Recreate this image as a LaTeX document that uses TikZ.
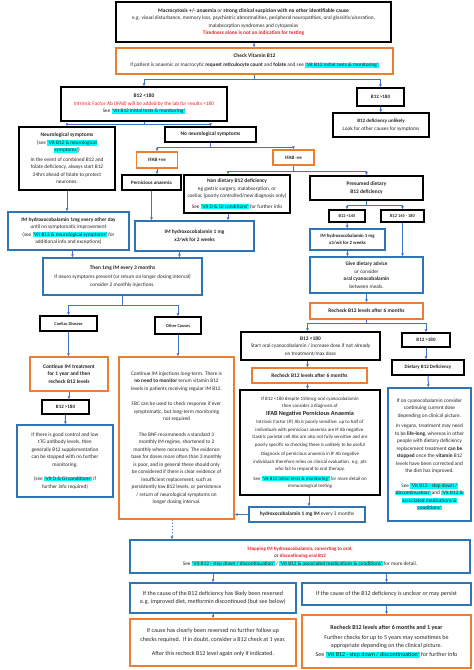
\documentclass[tikz,border=0pt]{standalone}
\usepackage{fontspec}
\setmainfont{Carlito}
\usepackage{xcolor}
\usetikzlibrary{arrows.meta}

\definecolor{boxorange}{RGB}{237,125,49}
\definecolor{boxblue}{RGB}{46,117,182}
\definecolor{linkblue}{RGB}{68,114,196}
\definecolor{warnred}{RGB}{232,32,44}
\definecolor{refcyan}{RGB}{0,255,255}
\newcommand{\refto}[1]{{\setlength{\fboxsep}{0.3pt}\colorbox{refcyan}{#1}}}
\newcommand{\hd}[1]{{\fontsize{5.4}{7.5}\selectfont\bfseries #1}}
\newcommand{\lbl}[1]{{\fontsize{5}{7.5}\selectfont\bfseries #1}}

\begin{document}
\begin{tikzpicture}[x=1pt, y=-1pt,
  every node/.style={font=\fontsize{5.3}{7.5}\selectfont, align=center, inner sep=0pt, text=black!85},
  blackbox/.style={draw=black, line width=1.3pt, fill=white},
  thickbox/.style={draw=black, line width=1.8pt, fill=white},
  orangebox/.style={draw=boxorange, line width=1.3pt, fill=white},
  bluebox/.style={draw=boxblue, line width=1.3pt, fill=white},
  bigtext/.style={font=\fontsize{6}{8.7}\selectfont},
  link/.style={draw=linkblue, line width=1pt, -{Latex[length=3pt,width=3pt]}}]
  \useasboundingbox (0,0) rectangle (474,670);

  % === TOP: presentation and first check ===
  \node[thickbox, minimum width=275, minimum height=40] (start) at (253.5,22)
    {\hd{Macrocytosis +/- anaemia} {\fontsize{5.4}{7.5}\selectfont or} \hd{strong clinical suspicion with no other identifiable cause}\\
     e.g. visual disturbance, memory loss, psychiatric abnormalities, peripheral neuropathies, oral glossitis/ulceration,\\
     malabsorption syndromes and cytopenias\\
     \textcolor{warnred}{\bfseries Tiredness alone is not an indication for testing}};
  \node[orangebox, minimum width=277, minimum height=26] (check) at (254.5,61)
    {\hd{Check Vitamin B12}\\[1.5pt]
     If patient is anaemic or macrocytic \textbf{request reticulocyte count} and \textbf{folate} and see \refto{`Vit B12 initial tests \& monitoring'}};
  \node[blackbox, minimum width=166, minimum height=34] (lowB) at (144,104)
    {\hd{B12 <180}\\
     \textcolor{warnred}{Intrinsic Factor Ab (IFAB) will be added by the lab for results <180}\\
     See \refto{`Vit B12 initial tests \& monitoring'}};
  \node[blackbox, minimum width=47, minimum height=18] (highB) at (380.5,97) {\lbl{B12 >180}};
  \node[blackbox, minimum width=96, minimum height=24] (unlikely) at (381,125)
    {\lbl{B12 deficiency unlikely}\\ Look for other causes for symptoms};

  % === MIDDLE: symptoms and IFAB ===
  \node[blackbox, minimum width=96, minimum height=63] (neuro) at (67,158.5)
    {\hd{Neurological symptoms}\\
     (see \refto{`Vit B12 \& neurological}\\ \refto{symptoms'}\textbf{)}\\[2pt]
     In the event of combined B12 and\\ folate deficiency, always start B12\\
     24hrs ahead of folate to protect\\ neurones.};
  \node[blackbox, minimum width=91, minimum height=15] (noneuro) at (210.5,134.5) {\hd{No neurological symptoms}};
  \node[orangebox, minimum width=41, minimum height=16] (ifabpos) at (157,160) {\lbl{IFAB +ve}};
  \node[orangebox, minimum width=41, minimum height=15] (ifabneg) at (293.5,157.5) {\lbl{IFAB -ve}};
  \node[blackbox, minimum width=59, minimum height=15] (pernicious) at (151.5,182.5) {\lbl{Pernicious anaemia}};
  \node[blackbox, minimum width=106, minimum height=38] (nondiet) at (237,194)
    {\hd{Non dietary B12 deficiency}\\
     eg gastric surgery, malabsorption, or\\
     coeliac (poorly controlled/new diagnosis only)\\[3pt]
     See \refto{`Vit D \& GI conditions'} for further info};
  \node[blackbox, minimum width=113, minimum height=24] (presumed) at (366.5,188)
    {\hd{Presumed dietary}\\ \hd{B12 deficiency}};
  \node[blackbox, minimum width=36, minimum height=12] (lowtier) at (347,216) {\fontsize{4.4}{6}\selectfont\bfseries B12 <145};
  \node[blackbox, minimum width=43, minimum height=12] (midtier) at (402.5,216) {\fontsize{4.4}{6}\selectfont\bfseries B12 145 - 180};

  % === treatment boxes ===
  \node[bluebox, minimum width=121, minimum height=38] (neuroim) at (68.5,231)
    {\textbf{IM hydroxocobalamin 1mg every other day}\\
     until no symptomatic improvement\\
     (see \refto{`Vit B12 \& neurological symptoms'} for\\
     additional info and exceptions)};
  \node[bluebox, minimum width=119, minimum height=30] (imleft) at (194.5,236)
    {\textbf{IM hydroxocobalamin 1 mg}\\ \textbf{x3/wk for 2 weeks}};
  \node[bluebox, minimum width=75, minimum height=21] (imright) at (347.5,239.5)
    {\fontsize{4.8}{7}\selectfont\bfseries IM hydroxocobalamin 1 mg\\ \fontsize{4.8}{7}\selectfont\bfseries x3/wk for 2 weeks};
  \node[bluebox, minimum width=113, minimum height=36] (dietadv) at (366.5,275)
    {\textbf{Give dietary advice}\\ or consider\\ \textbf{oral cyanocobalamin}\\ between meals.};
  \node[orangebox, minimum width=113, minimum height=16] (recheckA) at (366.5,311) {\hd{Recheck B12 levels after 6 months}};
  \node[bluebox, minimum width=159, minimum height=37] (then3m) at (122.5,276.5)
    {\hd{Then 1mg IM every 3 months}\\[2pt]
     If neuro symptoms present (or return on longer dosing interval)\\
     consider 2 monthly injections.};

  % === LOWER LEFT: coeliac and other causes ===
  \node[blackbox, minimum width=57, minimum height=15] (coeliac) at (68.5,323.5) {\fontsize{4.4}{6}\selectfont\bfseries Coeliac Disease};
  \node[blackbox, minimum width=46, minimum height=17] (other) at (178,325.5) {\fontsize{4.4}{6}\selectfont\bfseries Other Causes};
  \node[orangebox, minimum width=78, minimum height=34] (contim) at (69,374)
    {\hd{Continue IM treatment}\\ \hd{for 1 year and then}\\ \hd{recheck B12 levels}};
  \node[blackbox, minimum width=47, minimum height=14] (coelhigh) at (65.5,407) {\lbl{B12 >180}};
  \node[bluebox, minimum width=96, minimum height=72] (coelstop) at (65,461)
    {If there is good control and low\\ tTG antibody levels, then\\
     generally B12 supplementation\\ can be stopped with no further\\ monitoring.\\[7pt]
     (see \refto{`Vit D \& GI conditions'} if\\ further info required)};
  \node[orangebox, minimum width=115, minimum height=162] (otherlong) at (176.5,438)
    {Continue IM injections long-term. There is\\
     \textbf{no need to monitor} serum vitamin B12\\
     levels in patients receiving regular IM B12.\\[8pt]
     FBC can be used to check response if ever\\
     symptomatic, but long-term monitoring\\ not required\\[8pt]
     The BNF recommends a standard 3\\ monthly IM regime, shortened to 2\\
     monthly where necessary. The evidence\\ base for doses more often than 3 monthly\\
     is poor, and in general these should only\\ be considered if there is clear evidence of\\
     insufficient replacement, such as\\ persistently low B12 levels, or persistence\\
     / return of neurological symptoms on\\ longer dosing interval.};

  % === LOWER RIGHT: recheck results ===
  \node[blackbox, minimum width=139, minimum height=28] (lowR) at (310.5,346)
    {\hd{B12 <180}\\
     Start oral cyanocobalamin / increase dose if not already\\ on treatment/max dose};
  \node[blackbox, minimum width=48, minimum height=14] (highR) at (426,340) {\lbl{B12 >180}};
  \node[orangebox, minimum width=115, minimum height=15] (recheckB) at (309.5,375.5) {\hd{Recheck B12 levels after 6 months}};
  \node[thickbox, minimum width=140, minimum height=105, font=\fontsize{4.9}{7.5}\selectfont] (ifabneg pa) at (310,442.5)
    {If B12 <180 despite 150mcg oral cyanocobalamin\\ then consider a diagnosis of\\
     {\fontsize{6.2}{8}\selectfont\bfseries IFAB Negative Pernicious Anaemia}\\[1pt]
     Intrinsic Factor (IF) Ab is poorly sensitive: up to half of\\
     individuals with pernicious anaemia are IF Ab negative.\\
     Gastric parietal cell Abs are also not fully sensitive and are\\
     poorly specific so checking these is unlikely to be useful\\[2pt]
     Diagnosis of pernicious anaemia in IF Ab negative\\
     individuals therefore relies on clinical evaluation. e.g. pts\\
     who fail to respond to oral therapy.\\[2pt]
     See \refto{`Vit B12 initial tests \& monitoring'} for more detail on\\ immunological testing};
  \node[bluebox, minimum width=116, minimum height=15] (hydro3m) at (307,514.5)
    {\textbf{hydroxocobalamin 1 mg IM} every 3 months};
  \node[blackbox, minimum width=72, minimum height=15] (dietdef) at (428,367.5) {\lbl{Dietary B12 Deficiency}};
  \node[bluebox, minimum width=83, minimum height=133] (vegan) at (429.5,454.5)
    {If on cyanocobalamin consider\\ continuing current dose\\ depending on clinical picture.\\[3pt]
     In vegans, treatment may need\\ to be \textbf{life-long}, whereas in other\\
     people with dietary deficiency\\ replacement treatment \textbf{can be}\\
     \textbf{stopped} once the \textbf{vitamin} B12\\ levels have been corrected and\\
     the diet has improved.\\[7pt]
     See \refto{`Vit B12 - step down /}\\ \refto{discontinuation'} and \refto{`Vit B12 \&}\\
     \refto{associated medications \&}\\ \refto{conditions'}};

  % === BOTTOM: stopping treatment ===
  \node[bluebox, minimum width=340, minimum height=33] (stop) at (300,556.5)
    {\textcolor{warnred}{\lbl{Stopping IM hydroxocobalamin, converting to oral,}}\\
     or \textcolor{warnred}{\lbl{discontinuing oral B12}}\\
     See \refto{`Vit B12 - step down / discontinuation'} / \refto{`Vit B12 \& associated medications \& conditions'} for more detail.};
  \node[bluebox, bigtext, minimum width=166, minimum height=30] (reversed) at (213,598)
    {If the cause of the B12 deficiency has likely been reversed\\
     e.g. improved diet, metformin discontinued (but see below)};
  \node[bluebox, bigtext, minimum width=169, minimum height=22] (unclear) at (386.5,594)
    {If the cause of the B12 deficiency is unclear or may persist};
  \node[orangebox, bigtext, minimum width=166, minimum height=47] (nofollow) at (213,642.5)
    {If cause has clearly been reversed no further follow up\\
     checks required.\ \ If in doubt, consider a B12 check at 1 year.\\[6pt]
     After this recheck B12 level again only if indicated.};
  \node[orangebox, bigtext, minimum width=169, minimum height=53] (recheckC) at (386.5,641.5)
    {\textbf{Recheck B12 levels after 6 months and 1 year}\\[1pt]
     Further checks for up to 5 years may sometimes be\\
     appropriate depending on the clinical picture.\\
     See \refto{`Vit B12 - step down / discontinuation'} for further info};

  % === connectors ===
  \draw[link] (start) -- (check);
  \draw[link] (check.south) -- ++(0,5) -| (lowB.north);
  \draw[link] (check.south) -- ++(0,5) -| (highB.north);
  \draw[link] (highB) -- (unlikely);
  \draw[link] (lowB.south) -- ++(0,2.5) -| (neuro.north);
  \draw[link] (lowB.south) -- ++(0,2.5) -| (noneuro.north);
  \draw[link] (noneuro.south) -- ++(0,4.5) -| (ifabpos.north);
  \draw[link] (noneuro.south) -- ++(0,4.5) -| (ifabneg.north);
  \draw[link] (ifabpos.south) -- (ifabpos.south |- pernicious.north);
  \draw[link] (ifabneg.south) -- ++(0,6) -| ([xshift=-9pt]nondiet.north);
  \draw[link] (ifabneg.south) -- ++(0,6) -| (presumed.north);
  \draw[link] (presumed.south) -- ++(0,5) -| (lowtier.north);
  \draw[link] (presumed.south) -- ++(0,5) -| (midtier.north);
  \draw[link] (neuro.south) -- (neuro.south |- neuroim.north);
  \draw[link] (pernicious.south) -- (pernicious.south |- imleft.north);
  \draw[link] ([xshift=-9pt]nondiet.south) -- ([xshift=-9pt]nondiet.south |- imleft.north);
  \draw[link] (lowtier) -- (imright);
  \draw[link] (imright.south) -- (imright.south |- dietadv.north);
  \draw[link] (midtier.south) -- (midtier.south |- dietadv.north);
  \draw[link] (dietadv) -- (recheckA);
  \draw[link] ([xshift=4pt]neuroim.south) -- ([xshift=4pt]neuroim.south |- then3m.north);
  \draw[link] ([xshift=-15pt]imleft.south) -- ([xshift=-15pt]imleft.south |- then3m.north);
  \draw[link] (then3m.south) -- ++(0,10) -| (coeliac.north);
  \draw[link] (then3m.south) -- ++(0,10) -| (other.north);
  \draw[link] (coeliac.south) -- (coeliac.south |- contim.north);
  \draw[link] (contim.south) -- (contim.south |- coelhigh.north);
  \draw[link] (coelhigh) -- (coelstop);
  \draw[link] (other.south) -- (other.south |- otherlong.north);
  \draw[link] (recheckA.south) -- ++(0,4) -| ([xshift=-3pt]lowR.north);
  \draw[link] (recheckA.south) -- ++(0,4) -| (highR.north);
  \draw[link] ([xshift=-3pt]lowR.south) -- ([xshift=-3pt]lowR.south |- recheckB.north);
  \draw[link] ([xshift=-2pt]recheckB.south) -- ([xshift=-2pt]recheckB.south |- ifabneg pa.north);
  \draw[link] ([xshift=-1pt]ifabneg pa.south) -- ([xshift=-1pt]ifabneg pa.south |- hydro3m.north);
  \draw[link] (hydro3m.west) -- (hydro3m.west -| otherlong.east);
  \draw[link] (highR) -- (highR |- dietdef.north);
  \draw[link] (dietdef) -- (vegan);
  \draw[link, dotted] ([xshift=-4.5pt]otherlong.south) -- ([xshift=-4.5pt]otherlong.south |- stop.north);
  \draw[link] (reversed.north |- stop.south) -- (reversed.north);
  \draw[link] (unclear.north |- stop.south) -- (unclear.north);
  \draw[link] (reversed) -- (nofollow);
  \draw[link] (unclear) -- (recheckC);
\end{tikzpicture}
\end{document}
